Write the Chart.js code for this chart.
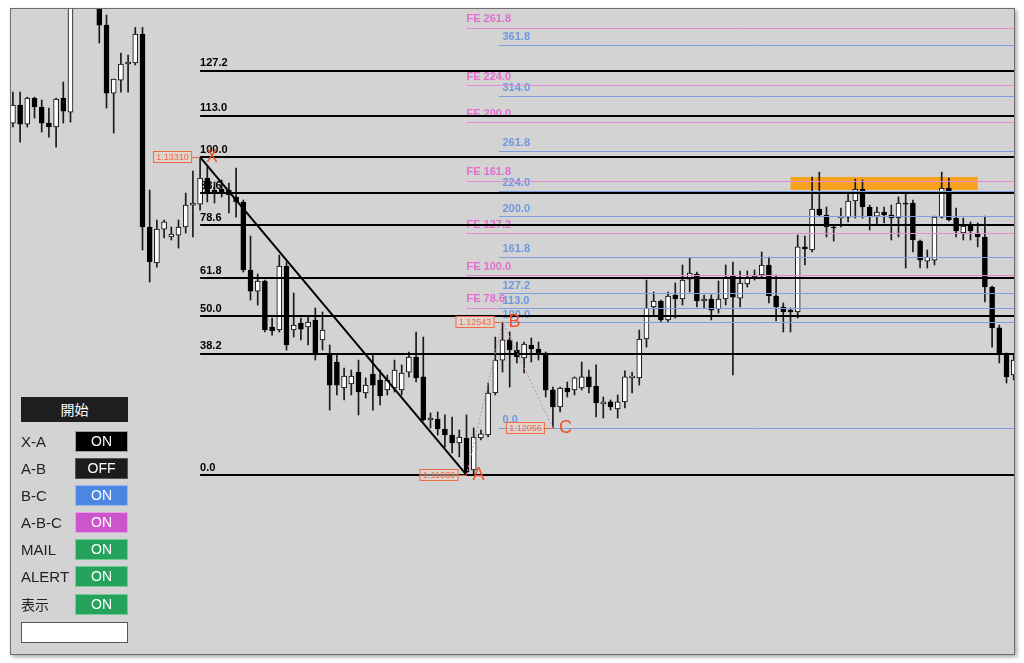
<!DOCTYPE html>
<html>
<head>
<meta charset="utf-8">
<script src="https://cdn.jsdelivr.net/npm/chart.js@4.4.1/dist/chart.umd.min.js"></script>
<style>
  body { margin: 0; background: #fff; font-family: "Liberation Sans", Arial, sans-serif; }
  #panel { position: absolute; left: 10px; top: 8px; width: 1003px; height: 645px;
           background: #d3d3d3; border: 1px solid #6e6e6e; box-shadow: 2px 2px 4px rgba(0,0,0,.35); }
  #chart { position: absolute; left: 0; top: 0; }
  .start { position: absolute; left: 21px; top: 397px; width: 107px; height: 25px; background: #1e1e1e;
           color: #fff; text-align: center; line-height: 25px; font-size: 14px; font-family: "Noto Sans CJK JP", sans-serif; }
  .lbl { position: absolute; left: 21px; font-size: 15px; color: #222; height: 21px; line-height: 21px; }
  .btn { position: absolute; left: 75px; width: 51px; height: 19px; line-height: 19px; text-align: center;
         color: #fff; font-size: 14px; border: 1px solid #999; }
  .jp { font-family: "Noto Sans CJK JP", sans-serif; font-size: 14px; }
  .box { position: absolute; left: 21px; top: 622px; width: 105px; height: 19px; background: #fff; border: 1px solid #555; }
</style>
</head>
<body>
<div id="panel"><canvas id="chart" width="1003" height="645"></canvas></div>

<div class="start">開始</div>
<div class="lbl" style="top:431px">X-A</div>    <div class="btn" style="top:431px;background:#000;border-color:#9a9a9a">ON</div>
<div class="lbl" style="top:458px">A-B</div>    <div class="btn" style="top:458px;background:#1c1c1c;border-color:#555">OFF</div>
<div class="lbl" style="top:485px">B-C</div>    <div class="btn" style="top:485px;background:#4b86e3;border-color:#9bb8ee">ON</div>
<div class="lbl" style="top:512px">A-B-C</div>  <div class="btn" style="top:512px;background:#cc55cc;border-color:#e8a0e8">ON</div>
<div class="lbl" style="top:539px">MAIL</div>   <div class="btn" style="top:539px;background:#25a35c;border-color:#70cc90">ON</div>
<div class="lbl" style="top:566px">ALERT</div>  <div class="btn" style="top:566px;background:#25a35c;border-color:#70cc90">ON</div>
<div class="lbl jp" style="top:594px">表示</div> <div class="btn" style="top:594px;background:#25a35c;border-color:#70cc90">ON</div>
<div class="box"></div>

<script>
// candles (index 0..139), prices
const opens = [1.13553,1.13682,1.13546,1.13732,1.13668,1.13553,1.13525,1.13732,1.13632,1.14649,
  1.14828,1.14756,1.14506,1.14255,1.13768,1.13861,1.13976,1.13983,1.14191,1.12809,
  1.12551,1.12794,1.12737,1.12751,1.12809,1.12966,1.12973,1.13160,1.13074,1.13081,
  1.13074,1.13024,1.12988,1.12501,1.12350,1.12422,1.12093,1.12071,1.12529,1.12071,
  1.12121,1.12093,1.12143,1.12000,1.11892,1.11842,1.11656,1.11685,1.11770,1.11620,
  1.11756,1.11713,1.11642,1.11656,1.11642,1.11770,1.11878,1.11735,1.11427,1.11434,
  1.11362,1.11319,1.11262,1.11298,1.11069,1.11298,1.11319,1.11620,1.11856,1.12000,
  1.11928,1.11871,1.11964,1.11935,1.11906,1.11642,1.11520,1.11656,1.11642,1.11656,
  1.11735,1.11670,1.11541,1.11556,1.11506,1.11556,1.11728,1.11728,1.12007,1.12236,
  1.12279,1.12143,1.12322,1.12293,1.12436,1.12472,1.12279,1.12293,1.12222,1.12293,
  1.12465,1.12300,1.12401,1.12451,1.12465,1.12537,1.12315,1.12236,1.12214,1.12200,
  1.12666,1.12644,1.12938,1.12895,1.12809,1.12873,1.12880,1.12995,1.13081,1.12952,
  1.12887,1.12916,1.12895,1.12873,1.12981,1.12981,1.12708,1.12565,1.12572,1.12880,
  1.13088,1.12873,1.12766,1.12823,1.12766,1.12737,1.12379,1.12086,1.11900,1.11749];
const closes = [1.13682,1.13546,1.13732,1.13668,1.13553,1.13525,1.13725,1.13639,1.14649,1.14792,
  1.14685,1.14541,1.14255,1.13768,1.13868,1.13976,1.13990,1.14191,1.12809,1.12558,
  1.12794,1.12845,1.12759,1.12809,1.12966,1.12981,1.13160,1.13059,1.13052,1.13052,
  1.13038,1.12988,1.12501,1.12350,1.12422,1.12071,1.12064,1.12529,1.11964,1.12107,
  1.12078,1.12128,1.11892,1.12071,1.11677,1.11677,1.11742,1.11742,1.11627,1.11677,
  1.11677,1.11599,1.11713,1.11785,1.11763,1.11878,1.11728,1.11427,1.11441,1.11362,
  1.11319,1.11262,1.11305,1.11054,1.11305,1.11327,1.11620,1.11856,1.12000,1.11928,
  1.11878,1.11971,1.11935,1.11906,1.11642,1.11520,1.11656,1.11627,1.11728,1.11735,
  1.11663,1.11549,1.11556,1.11520,1.11556,1.11735,1.11742,1.12007,1.12229,1.12279,
  1.12143,1.12315,1.12293,1.12429,1.12479,1.12279,1.12293,1.12214,1.12293,1.12451,
  1.12307,1.12408,1.12451,1.12465,1.12537,1.12315,1.12236,1.12200,1.12200,1.12666,
  1.12651,1.12938,1.12895,1.12809,1.12802,1.12880,1.12995,1.13081,1.12952,1.12887,
  1.12916,1.12895,1.12873,1.12981,1.12973,1.12716,1.12572,1.12594,1.12880,1.13088,
  1.12859,1.12780,1.12816,1.12780,1.12737,1.12379,1.12086,1.11906,1.11735,1.11856];
const highs = [1.13775,1.13775,1.13739,1.13739,1.13718,1.13661,1.13732,1.13847,1.14720,1.14864,
  1.14935,1.14864,1.14577,1.14327,1.13868,1.14055,1.14040,1.14238,1.14238,1.13074,
  1.12859,1.12859,1.12809,1.12859,1.13052,1.13210,1.13310,1.13238,1.13131,1.13145,
  1.13124,1.13231,1.13002,1.12744,1.12472,1.12429,1.12157,1.12608,1.12558,1.12336,
  1.12157,1.12171,1.12229,1.12200,1.11964,1.11892,1.11799,1.11785,1.11856,1.11728,
  1.11892,1.11785,1.11749,1.11856,1.11821,1.11914,1.12057,1.12021,1.11477,1.11484,
  1.11463,1.11448,1.11355,1.11463,1.11370,1.11355,1.11692,1.12021,1.12128,1.12057,
  1.11985,1.11985,1.12014,1.11985,1.11914,1.11663,1.11663,1.11699,1.11735,1.11842,
  1.11785,1.11821,1.11591,1.11570,1.11606,1.11778,1.11770,1.12071,1.12429,1.12343,
  1.12286,1.12343,1.12408,1.12537,1.12587,1.12486,1.12322,1.12322,1.12422,1.12537,
  1.12558,1.12494,1.12494,1.12501,1.12630,1.12594,1.12465,1.12265,1.12229,1.12751,
  1.12744,1.13167,1.13202,1.12952,1.12816,1.12945,1.13059,1.13152,1.13145,1.12966,
  1.12952,1.12952,1.12966,1.13024,1.13052,1.13002,1.12716,1.12644,1.12887,1.13202,
  1.13160,1.12945,1.12873,1.12845,1.12838,1.12887,1.12386,1.12107,1.11907,1.11892];
const lows = [1.13525,1.13417,1.13525,1.13589,1.13489,1.13453,1.13381,1.13553,1.13560,1.14577,
  1.14613,1.14470,1.14126,1.13661,1.13482,1.13775,1.13775,1.13969,1.12644,1.12415,
  1.12522,1.12730,1.12716,1.12658,1.12766,1.12737,1.12930,1.12988,1.12981,1.13024,
  1.12909,1.12880,1.12486,1.12286,1.12250,1.12057,1.12035,1.12057,1.11928,1.12021,
  1.12000,1.11964,1.11856,1.11928,1.11498,1.11606,1.11570,1.11606,1.11463,1.11584,
  1.11498,1.11534,1.11606,1.11627,1.11606,1.11735,1.11699,1.11420,1.11370,1.11319,
  1.11233,1.11191,1.11162,1.11033,1.11040,1.11284,1.11305,1.11606,1.11770,1.11663,
  1.11835,1.11763,1.11842,1.11856,1.11591,1.11370,1.11484,1.11591,1.11606,1.11642,
  1.11620,1.11448,1.11441,1.11498,1.11441,1.11513,1.11620,1.11677,1.11949,1.12179,
  1.12128,1.12128,1.12157,1.12250,1.12343,1.12236,1.12229,1.12143,1.12193,1.12250,
  1.11749,1.12236,1.12379,1.12429,1.12444,1.12265,1.12136,1.12057,1.12057,1.12157,
  1.12537,1.12630,1.12887,1.12737,1.12708,1.12809,1.12845,1.12873,1.12873,1.12787,
  1.12830,1.12838,1.12716,1.12737,1.12515,1.12630,1.12515,1.12515,1.12537,1.12873,
  1.12852,1.12737,1.12716,1.12716,1.12666,1.12272,1.11949,1.11835,1.11692,1.11713];

// pattern points: candle index and price
const pointNames = ['X', 'A', 'B', 'C'];
const pointIndex = [26, 63, 68, 75];
const pointPrice = [1.13310, 1.11033, 1.12128, 1.11370];
const pointText  = ['1.13310', '1.11033', '1.12543', '1.12056'];

// fibo levels
const xaLevels = [0, 38.2, 50, 61.8, 78.6, 88.6, 100, 113, 127.2];
const bcLevels = [0, 100, 113, 127.2, 161.8, 200, 224, 261.8, 314, 361.8];
const feLevels = [78.6, 100, 127.2, 161.8, 200, 224, 261.8];

// orange zone (candle index from/to, price top/bottom)
const zoneIdx = [108, 134];
const zonePrice = [1.13167, 1.13074];

const P = {};
pointNames.forEach((n, k) => P[n] = { i: pointIndex[k], p: pointPrice[k], t: pointText[k] });

const fibPlugin = {
  id: 'fibo',
  beforeDatasetsDraw(chart) {
    const { ctx, scales: { x, y } } = chart;
    ctx.save();
    // zone
    ctx.fillStyle = '#f7a21f';
    const zx0 = x.getPixelForValue(zoneIdx[0]), zx1 = x.getPixelForValue(zoneIdx[1]);
    const zy0 = y.getPixelForValue(zonePrice[0]), zy1 = y.getPixelForValue(zonePrice[1]);
    ctx.fillRect(zx0, zy0, zx1 - zx0, zy1 - zy0);

    // level labels
    ctx.font = 'bold 11px "Liberation Sans", Arial, sans-serif';
    ctx.textBaseline = 'bottom';
    xaLevels.forEach(l => {
      const py = y.getPixelForValue(P.A.p + (P.X.p - P.A.p) * l / 100);
      ctx.fillStyle = '#000';
      ctx.fillText(l.toFixed(1), x.getPixelForValue(P.X.i), py - 2);
    });
    feLevels.forEach(l => {
      const py = y.getPixelForValue(P.C.p + (P.B.p - P.A.p) * l / 100);
      ctx.fillStyle = '#e070cc';
      ctx.fillText('FE ' + l.toFixed(1), x.getPixelForValue(P.A.i), py - 3);
    });
    bcLevels.forEach(l => {
      const py = y.getPixelForValue(P.C.p + (P.B.p - P.C.p) * l / 100);
      ctx.fillStyle = '#6d97e2';
      ctx.fillText(l.toFixed(1), x.getPixelForValue(P.B.i), py - 2);
    });
    ctx.restore();
  },
  afterDatasetsDraw(chart) {
    const { ctx, chartArea, scales: { x, y } } = chart;
    const right = chartArea.right;
    ctx.save();
    const hline = (i0, price, color, w) => {
      const py = Math.round(y.getPixelForValue(price)) + (w % 2 ? 0.5 : 0);
      ctx.strokeStyle = color; ctx.lineWidth = w;
      ctx.beginPath(); ctx.moveTo(x.getPixelForValue(i0), py); ctx.lineTo(right, py); ctx.stroke();
    };
    feLevels.forEach(l => hline(P.A.i, P.C.p + (P.B.p - P.A.p) * l / 100, '#e48ad6', 1));
    bcLevels.forEach(l => hline(P.B.i - 0.5, P.C.p + (P.B.p - P.C.p) * l / 100, '#7d9fe0', 1));
    xaLevels.forEach(l => hline(P.X.i, P.A.p + (P.X.p - P.A.p) * l / 100, '#000', 2));

    const px = n => x.getPixelForValue(P[n].i), py = n => y.getPixelForValue(P[n].p);
    // X-A line
    ctx.strokeStyle = '#000'; ctx.lineWidth = 2;
    ctx.beginPath(); ctx.moveTo(px('X'), py('X')); ctx.lineTo(px('A'), py('A')); ctx.stroke();
    // A-B-C dotted
    ctx.strokeStyle = '#c98ac9'; ctx.lineWidth = 1; ctx.setLineDash([2, 2]);
    ctx.beginPath(); ctx.moveTo(px('A'), py('A')); ctx.lineTo(px('B'), py('B')); ctx.lineTo(px('C'), py('C')); ctx.stroke();
    ctx.setLineDash([]);

    // price boxes and letters
    pointNames.forEach(n => {
      const cx = px(n), cy = Math.round(py(n));
      ctx.strokeStyle = '#ec6a45'; ctx.lineWidth = 1;
      ctx.beginPath(); ctx.moveTo(cx - 8, cy + 0.5); ctx.lineTo(cx, cy + 0.5); ctx.stroke();
      ctx.fillStyle = 'rgba(245,215,200,0.45)';
      ctx.fillRect(cx - 47, cy - 6, 39, 12);
      ctx.strokeRect(cx - 46.5, cy - 5.5, 38, 11);
      ctx.fillStyle = '#ec6a45';
      ctx.font = '9px "Liberation Sans", Arial, sans-serif';
      ctx.textAlign = 'center'; ctx.textBaseline = 'middle';
      ctx.fillText(P[n].t, cx - 27.5, cy + 0.5);
      ctx.font = '18px "Liberation Sans", Arial, sans-serif';
      ctx.textAlign = 'left';
      ctx.fillStyle = '#f0512b';
      ctx.fillText(n, cx + 6, cy);
    });
    ctx.restore();
  }
};

new Chart(document.getElementById('chart'), {
  type: 'bar',
  data: {
    datasets: [{
      label: 'body',
      order: 1,
      data: opens.map((o, i) => ({ x: i, y: [o, closes[i]] })),
      backgroundColor: opens.map((o, i) => closes[i] >= o ? '#ffffff' : '#000000'),
      borderColor: '#000',
      borderWidth: 1,
      borderSkipped: false,
      barThickness: 5,
      minBarLength: 1,
      grouped: false
    }, {
      label: 'wick',
      order: 2,
      data: lows.map((l, i) => ({ x: i, y: [l, highs[i]] })),
      backgroundColor: '#1a1a1a',
      borderWidth: 0,
      barThickness: 1,
      grouped: false
    }]
  },
  options: {
    responsive: false,
    animation: false,
    layout: { padding: 0 },
    plugins: { legend: { display: false }, tooltip: { enabled: false } },
    scales: {
      x: { type: 'linear', min: -0.264, max: 139.042, offset: false, display: false },
      y: { type: 'linear', min: 1.09751, max: 1.14370, display: false }
    }
  },
  plugins: [fibPlugin]
});
</script>
</body>
</html>
